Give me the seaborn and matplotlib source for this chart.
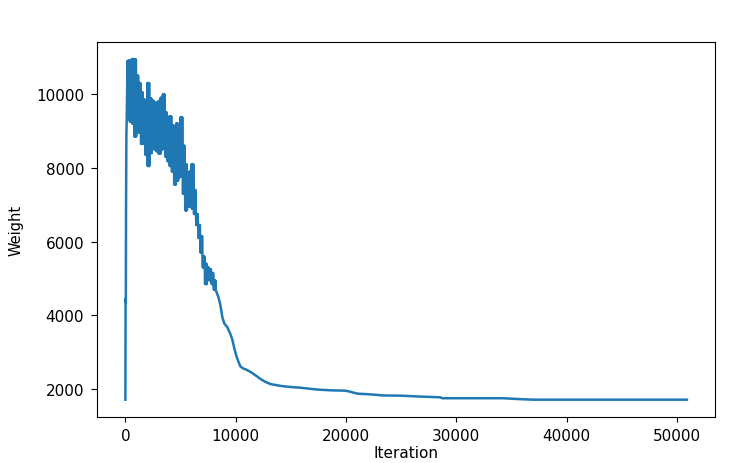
import matplotlib
matplotlib.use("Agg")
import matplotlib.pyplot as plt
import seaborn as sns
import pandas as pd

# ---- data ----
# initial jump at iteration 0
start_iter = [0, 20, 40, 60, 90, 120]
start_weight = [1716, 4450, 4350, 6900, 8850, 9300]

# noisy phase: upper / lower swing read at each knot
noisy_iter = [200, 400, 600, 800, 1000, 1200, 1400, 1600, 1800, 2000,
              2200, 2400, 2600, 2800, 3000, 3200, 3400, 3600, 3800, 4000,
              4200, 4400, 4600, 4800, 5000, 5200, 5400, 5600, 5800, 6000,
              6200, 6400, 6600, 6800, 7000, 7200, 7400, 7600, 7800, 8000]
noisy_high = [10900, 10920, 10950, 10940, 10500, 10300, 10050, 9850, 9750, 10300,
              9880, 9820, 9730, 9780, 9810, 9900, 9990, 9500, 9360, 9400,
              9150, 8850, 9200, 9100, 9375, 8600, 8100, 7800, 7900, 8100,
              7400, 6750, 6450, 6150, 5600, 5400, 5300, 5250, 5150, 4950]
noisy_low = [9300, 9250, 9200, 8850, 9000, 8950, 8650, 8800, 8350, 8050,
             8400, 8550, 8500, 8450, 8380, 8500, 8650, 8300, 8180, 8050,
             7900, 7550, 7650, 7750, 8200, 7300, 6850, 6950, 7300, 6900,
             6750, 6450, 6100, 5700, 5300, 4850, 5050, 4950, 4850, 4700]

# smooth decay and plateau
tail_iter = [8430, 8600, 8790, 8970, 9240, 9510, 9690, 9880, 10060, 10240,
             10420, 10690, 10960, 11330, 11780, 12230, 12680, 13140, 14040, 14950,
             15860, 17400, 18570, 19930, 20390, 21020, 22200, 23370, 24900, 26700,
             28540, 28720, 34250, 35790, 36960, 50900]
tail_weight = [4500, 4300, 3950, 3780, 3680, 3500, 3350, 3100, 2900, 2750,
               2620, 2560, 2530, 2470, 2380, 2280, 2200, 2140, 2090, 2060,
               2040, 1990, 1970, 1960, 1930, 1880, 1860, 1830, 1825, 1800,
               1780, 1755, 1755, 1730, 1716, 1716]

# ---- assemble the series (the weight swings between the read high and low
# values several times inside each 200-iteration knot) ----
xs = list(start_iter)
ys = list(start_weight)
for it, hi, lo in zip(noisy_iter, noisy_high, noisy_low):
    for k in range(4):
        xs += [it + k * 50, it + k * 50 + 25]
        ys += [hi, lo]
xs += tail_iter
ys += tail_weight
df = pd.DataFrame({"Iteration": xs, "Weight": ys})

# ---- figure ----
plt.rcParams["font.family"] = ["DejaVu Sans"]
plt.rcParams["font.stretch"] = "normal"
plt.rcParams["font.size"] = 11
fig = plt.figure(figsize=(7.32, 4.64), dpi=100)
ax = fig.add_axes([97.3 / 732, 1 - 417.7 / 464, (715 - 97.3) / 732, (417.7 - 43) / 464])

sns.lineplot(data=df, x="Iteration", y="Weight", estimator=None, sort=False,
             ax=ax, color="#1f77b4", linewidth=1.8)

ax.set_xticks([0, 10000, 20000, 30000, 40000, 50000])
ax.set_yticks([2000, 4000, 6000, 8000, 10000])
ax.tick_params(axis="y", length=4.3, pad=5.2, labelsize=11)
ax.tick_params(axis="x", length=3.5, pad=4.6, labelsize=11)
ax.set_xlabel("Iteration", fontsize=11)
ax.set_ylabel("Weight", fontsize=10.5)
ax.xaxis.set_label_coords(0.5, -0.076)
ax.yaxis.set_label_coords(-0.120, 0.5)

fig.savefig("out.png", dpi=100)
